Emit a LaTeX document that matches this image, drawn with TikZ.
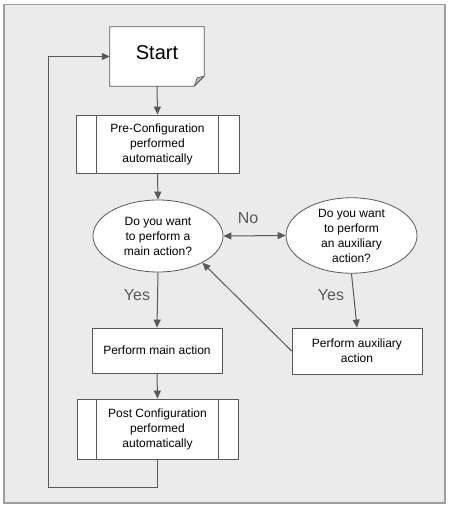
\documentclass[tikz,border=0pt]{standalone}
\usepackage{fontspec}
\setmainfont{Liberation Sans}
\usetikzlibrary{shapes.geometric,arrows.meta}
\definecolor{ln}{HTML}{595959}
\definecolor{bg}{HTML}{EBEBEB}
\definecolor{bd}{HTML}{9E9E9E}
\definecolor{fold}{HTML}{B5B5B5}
\tikzset{
  conn/.style={draw=ln, line width=1pt, -{Triangle[length=8pt,width=7pt]}},
  boxnode/.style={draw=ln, fill=white, line width=0.8pt, align=center, inner sep=0pt, font=\fontsize{12}{15}\selectfont},
  decision/.style={ellipse, draw=ln, fill=white, line width=0.8pt, align=center, inner sep=0pt, minimum width=130pt, minimum height=72pt, font=\fontsize{12}{15}\selectfont},
  lbl/.style={text=ln, font=\fontsize{16}{19}\selectfont, inner sep=0pt}
}
\begin{document}
\begin{tikzpicture}[x=1pt,y=-1pt]
\useasboundingbox (0,0) rectangle (454,511);
\draw[fill=bg, draw=bd, line width=1.5pt] (4,4.5) rectangle (445,503);

% Start (folded corner)
\node[inner sep=0pt, minimum width=94pt, minimum height=59pt] (start) at (157,56.5) {};
\draw[draw=ln, fill=white, line width=0.8pt] (start.north west) -- (start.north east) -- ([yshift=10pt]start.south east) -- ([xshift=-10pt]start.south east) -- (start.south west) -- cycle;
\fill[fill=fold, draw=ln, line width=0.6pt, line join=round] ([yshift=10pt]start.south east) -- ([xshift=-7pt,yshift=8.5pt]start.south east) -- ([xshift=-10pt]start.south east) -- cycle;
\node[font=\fontsize{20}{24}\selectfont, inner sep=0pt] (starttxt) at (157,53) {Start};

% Pre-configuration
\node[boxnode, minimum width=163pt, minimum height=58pt] (pre) at (157.5,144) {Pre-Configuration\\performed\\automatically};
\draw[ln, line width=0.8pt] ([xshift=21pt]pre.north west) -- ([xshift=21pt]pre.south west);
\draw[ln, line width=0.8pt] ([xshift=-21pt]pre.north east) -- ([xshift=-21pt]pre.south east);

% Decisions
\node[decision] (le) at (158,236) {Do you want\\to perform a\\main action?};
\node[decision, minimum width=131pt, minimum height=71pt] (re) at (351.5,235.5) {Do you want\\to perform\\an auxiliary\\action?};

% Actions
\node[boxnode, minimum width=130pt, minimum height=45pt] (main) at (157,350.5) {Perform main action};
\node[boxnode, minimum width=130pt, minimum height=46pt] (aux) at (357,351) {Perform auxiliary\\action};

% Post-configuration
\node[boxnode, minimum width=161pt, minimum height=60pt] (post) at (157.5,429) {Post Configuration\\performed\\automatically};
\draw[ln, line width=0.8pt] ([xshift=20pt]post.north west) -- ([xshift=20pt]post.south west);
\draw[ln, line width=0.8pt] ([xshift=-20pt]post.north east) -- ([xshift=-20pt]post.south east);

% Labels
\node[lbl] (no) at (248,218) {No};
\node[lbl] (yes1) at (137,295) {Yes};
\node[lbl] (yes2) at (331,295) {Yes};

% Connectors
\draw[conn] (start.south) -- (pre.north);
\draw[conn] (pre.south) -- (le.north);
\draw[conn, {Triangle[length=8pt,width=7pt]}-{Triangle[length=8pt,width=7pt]}] (le.east) -- (re.west);
\draw[conn] (le.south) -- (main.north);
\draw[conn] (re.south) -- (aux.north);
\draw[conn] (aux.west) -- (le.-31);
\draw[conn] (main.south) -- (post.north);
\coordinate (c1) at (48,487);
\draw[conn] (post.south) |- (c1) |- (start.west);
\end{tikzpicture}
\end{document}
